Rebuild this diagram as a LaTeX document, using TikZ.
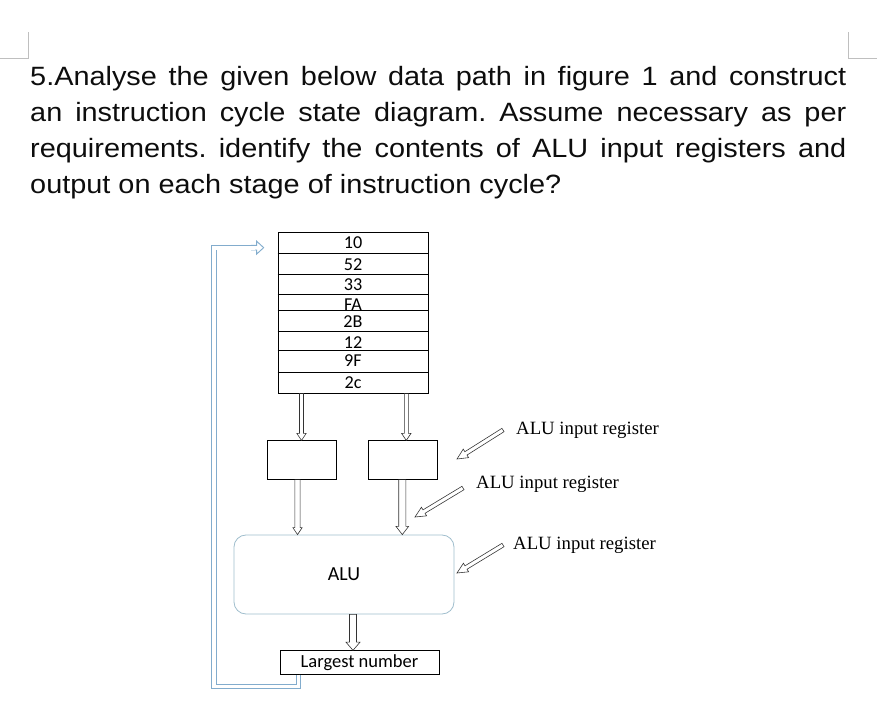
\documentclass[tikz,border=0pt]{standalone}
\usepackage{fontspec}
\setmainfont{Liberation Serif}
\newfontfamily\qfont[FakeStretch=1.09]{Liberation Sans}
\newfontfamily\cfont{Carlito}
\usetikzlibrary{arrows.meta,calc}
\frenchspacing

\definecolor{loopblue}{RGB}{130,172,205}
\definecolor{alugray}{RGB}{160,190,205}

\tikzset{
  cell/.style={font=\cfont\fontsize{15.5}{15.5}\selectfont, inner sep=0pt},
  reg/.style={draw, minimum width=2.07cm, minimum height=1.16cm},
  note/.style={anchor=west, font=\fontsize{16}{16}\selectfont, inner sep=0pt},
  qline/.style={anchor=base west, font=\qfont\fontsize{22.6}{26}\selectfont, inner sep=0pt, text=black!95},
  loopline/.style={draw=loopblue, line width=0.8pt, double=white, double distance=3.2pt},
}

% hollow block arrow: [opts]{from}{to}{shaft half width}{head half width}{head length}
\newcommand{\blockarrow}[6][]{%
  \coordinate (ba0) at ($(#3)!#6!(#2)$);
  \draw[line width=0.5pt, black!80, #1] ($(#2)!#4!90:(#3)$) -- ($(ba0)!#4!90:(#3)$) -- ($(ba0)!#5!90:(#3)$) -- (#3)
    -- ($(ba0)!#5!-90:(#3)$) -- ($(ba0)!#4!-90:(#3)$) -- ($(#2)!#4!-90:(#3)$) -- cycle;
}

\begin{document}
\begin{tikzpicture}[x=0.03cm, y=-0.03cm]
    \useasboundingbox (0,0) rectangle (877,704);

    % Page corner marks
    \draw[gray!50, line width=0.8pt] (0,58) -- (28,58) -- (28,32);
    \draw[gray!50, line width=0.8pt] (877,58) -- (848,58) -- (848,32);

    % Question
    \node[qline] (q1) at (30,86) {\hbox to 24.48cm{5.Analyse the given below data path in figure 1 and construct}};
    \node[qline] (q2) at (30,121) {\hbox to 24.48cm{an instruction cycle state diagram. Assume necessary as per}};
    \node[qline] (q3) at (30,157) {\hbox to 24.48cm{requirements. identify the contents of ALU input registers and}};
    \node[qline] (q4) at (30,193) {output on each stage of instruction cycle?};

    % Memory
    \node[draw, minimum width=4.5cm, minimum height=4.83cm, line width=0.6pt] (mem) at (353,312.5) {};
    \foreach \y in {253,274,294,310,331,350,372}
        \draw[line width=0.6pt] (mem.west |- 0,\y) -- (mem.east |- 0,\y);
    \foreach \v/\y [count=\i] in {10/242.7, 52/265, 33/285, FA/305, 2B/321.7, 12/343, 9F/360.7, 2c/382.7}
        \node[cell] (m\i) at (353,\y) {\v};

    % Registers, ALU and result
    \node[reg] (regA) at (301.5,460) {};
    \node[reg] (regB) at (402.3,460) {};
    \node[draw=alugray, line width=0.7pt, rounded corners=0.36cm, minimum width=6.6cm, minimum height=2.37cm,
          font=\cfont\fontsize{17}{17}\selectfont] (alu) at (344,574.5) {ALU};
    \node[draw, minimum width=4.77cm, minimum height=0.69cm, font=\cfont\fontsize{15.8}{15.8}\selectfont] (out) at (359.5,662.5) {Largest number};

    % Data arrows
    \coordinate (a1s) at (regA.north |- mem.south);
    \coordinate (a2s) at ($(regB.north |- mem.south)+(4,0)$);
    \coordinate (a2e) at ($(regB.north)+(4,0)$);
    \coordinate (a3s) at ($(regA.south)+(-4,0)$);
    \coordinate (a3e) at ($(regA.south |- alu.north)+(-4,0)$);
    \coordinate (a4e) at (regB.south |- alu.north);
    \coordinate (a5s) at (alu.south -| 353,0);
    \coordinate (a5e) at (out.north -| 353,0);
    \blockarrow{a1s}{regA.north}{1.7pt}{4pt}{6pt}
    \blockarrow{a2s}{a2e}{1.7pt}{4pt}{6pt}
    \blockarrow{a3s}{a3e}{2.3pt}{4pt}{6pt}
    \blockarrow{regB.south}{a4e}{3pt}{5.4pt}{7pt}
    \blockarrow{a5s}{a5e}{3pt}{6pt}{7pt}

    % Feedback path
    \coordinate (fbTip) at ($(mem.north west)+(-14,16)$);
    \coordinate (fbMid) at ($(fbTip)+(-12,0)$);
    \coordinate (fbLow) at (214,686.5);
    \coordinate (fbOut) at ($(out.south)+(-61,0)$);
    \blockarrow[loopblue, line width=0.8pt]{fbMid}{fbTip}{2pt}{5.5pt}{6pt}
    \draw[loopline] (fbOut) |- (fbLow) |- ($(fbMid)+(3,0)$);

    % Annotations
    \node[note] (lab1) at (516,430) {ALU input register};
    \node[note] (lab2) at (476,484) {ALU input register};
    \node[note] (lab3) at (513,545) {ALU input register};
    \coordinate (tip1) at (457,459);
    \coordinate (tip2) at (415,517);
    \coordinate (tip3) at (457,573);
    \blockarrow{$(lab1.west)+(-13,0)$}{tip1}{1.7pt}{4.3pt}{9pt}
    \blockarrow{$(lab2.west)+(-13,4)$}{tip2}{1.7pt}{4.3pt}{9pt}
    \blockarrow{$(lab3.west)+(-10,0)$}{tip3}{1.7pt}{4.3pt}{9pt}
\end{tikzpicture}
\end{document}
